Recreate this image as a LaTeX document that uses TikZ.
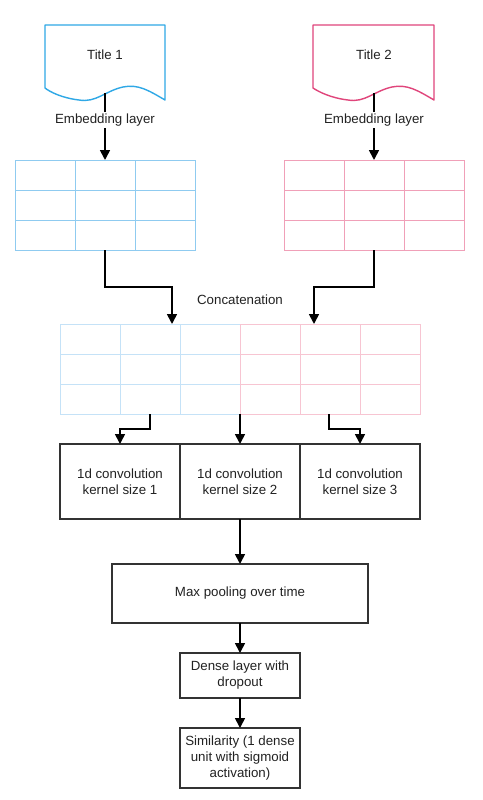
\documentclass[tikz,border=0pt]{standalone}
\usepackage{fontspec}
\setmainfont{Liberation Sans}
\usepackage{tikz}
\usetikzlibrary{arrows.meta}
\definecolor{txt}{HTML}{222222}
\definecolor{edge}{HTML}{333333}
\definecolor{blueline}{HTML}{2FA8E6}
\definecolor{pinkline}{HTML}{E0457B}
\definecolor{bluecell}{HTML}{8FCBF0}
\definecolor{pinkcell}{HTML}{F0A0B8}
\definecolor{bluefaint}{HTML}{C5E2F7}
\definecolor{pinkfaint}{HTML}{F7C5D2}
\tikzset{
  lab/.style={text=txt, font=\fontsize{13.3}{16}\selectfont, align=center, inner sep=2pt},
  layer/.style={lab, draw=edge, line width=1.2pt, minimum width=120pt, outer sep=0pt},
  docline/.style={line width=1.4pt, line join=round},
  cell/.style={line width=1pt},
  emb/.style={minimum width=180pt, minimum height=90pt, inner sep=0pt, outer sep=0pt},
  arr/.style={draw=black, line width=1.7pt, -{Triangle[length=10pt,width=10pt]}},
}
\begin{document}
\begin{tikzpicture}[x=1pt,y=-1pt]
  \useasboundingbox[fill=white] (0,0) rectangle (482,800);

  % input titles
  \draw[docline, draw=blueline] (45,25) -- (165,25) -- (165,100)
    .. controls (148,90) and (138,84) .. (123,87)
    .. controls (105,91) and (96,103) .. (79,100)
    .. controls (62,98) and (50,92) .. (45,88) -- cycle;
  \draw[docline, draw=pinkline] (313,25) -- (434,25) -- (434,100)
    .. controls (417,90) and (407,84) .. (392,87)
    .. controls (374,91) and (365,103) .. (348,100)
    .. controls (331,98) and (319,92) .. (313,88) -- cycle;
  \node[lab] (title1) at (105,55) {Title 1};
  \node[lab] (title2) at (374,55) {Title 2};
  \coordinate (doc1) at (105,93);
  \coordinate (doc2) at (374,93);

  % embeddings
  \node[emb, draw=bluecell, cell] (grid1) at (105,205) {};
  \node[emb, draw=pinkcell, cell] (grid2) at (374,205) {};
  \foreach \i in {1,2} {
    \draw[cell, bluecell] (15+60*\i,160) -- (15+60*\i,250);
    \draw[cell, bluecell] (15,160+30*\i) -- (195,160+30*\i);
    \draw[cell, pinkcell] (284+60*\i,160) -- (284+60*\i,250);
    \draw[cell, pinkcell] (284,160+30*\i) -- (464,160+30*\i);
  }
  \draw[arr] (doc1) -- node[lab, fill=white, pos=0.4] {Embedding layer} (grid1.north);
  \draw[arr] (doc2) -- node[lab, fill=white, pos=0.4] {Embedding layer} (grid2.north);

  % concatenated matrix
  \node[minimum width=360pt, minimum height=90pt, inner sep=0pt, outer sep=0pt] (cat) at (240,369) {};
  \foreach \i in {0,1,2} {
    \draw[cell, bluefaint] (60+60*\i,324) rectangle ++(60,30);
    \draw[cell, bluefaint] (60+60*\i,354) rectangle ++(60,30);
    \draw[cell, bluefaint] (60+60*\i,384) rectangle ++(60,30);
  }
  \foreach \i in {0,1,2} {
    \draw[cell, pinkfaint] (240+60*\i,324) rectangle ++(60,30);
    \draw[cell, pinkfaint] (240+60*\i,354) rectangle ++(60,30);
    \draw[cell, pinkfaint] (240+60*\i,384) rectangle ++(60,30);
  }
  \node[lab] (concat) at (240,300) {Concatenation};
  \draw[arr] (grid1.south) -- ++(0,37) -| ([xshift=-68pt]cat.north);
  \draw[arr] (grid2.south) -- ++(0,37) -| ([xshift=74pt]cat.north);

  % convolutions
  \node[layer, minimum height=75pt] (conv1) at (120,481.5) {1d convolution\\kernel size 1};
  \node[layer, minimum height=75pt] (conv2) at (240,481.5) {1d convolution\\kernel size 2};
  \node[layer, minimum height=75pt] (conv3) at (360,481.5) {1d convolution\\kernel size 3};
  \draw[arr] ([xshift=-90pt]cat.south) -- ++(0,15) -| (conv1.north);
  \draw[arr] (cat.south) -- (conv2.north);
  \draw[arr] ([xshift=89pt]cat.south) -- ++(0,15) -| (conv3.north);

  % head
  \node[layer, minimum width=256pt, minimum height=59pt] (pool) at (240,593.5) {Max pooling over time};
  \node[layer, minimum height=45pt] (dense) at (240,675.5) {Dense layer with\\dropout};
  \node[layer, minimum height=60pt] (sim) at (240,758) {Similarity (1 dense\\unit with sigmoid\\activation)};
  \draw[arr] (conv2.south) -- (pool.north);
  \draw[arr] (pool.south) -- (dense.north);
  \draw[arr] (dense.south) -- (sim.north);
\end{tikzpicture}
\end{document}
